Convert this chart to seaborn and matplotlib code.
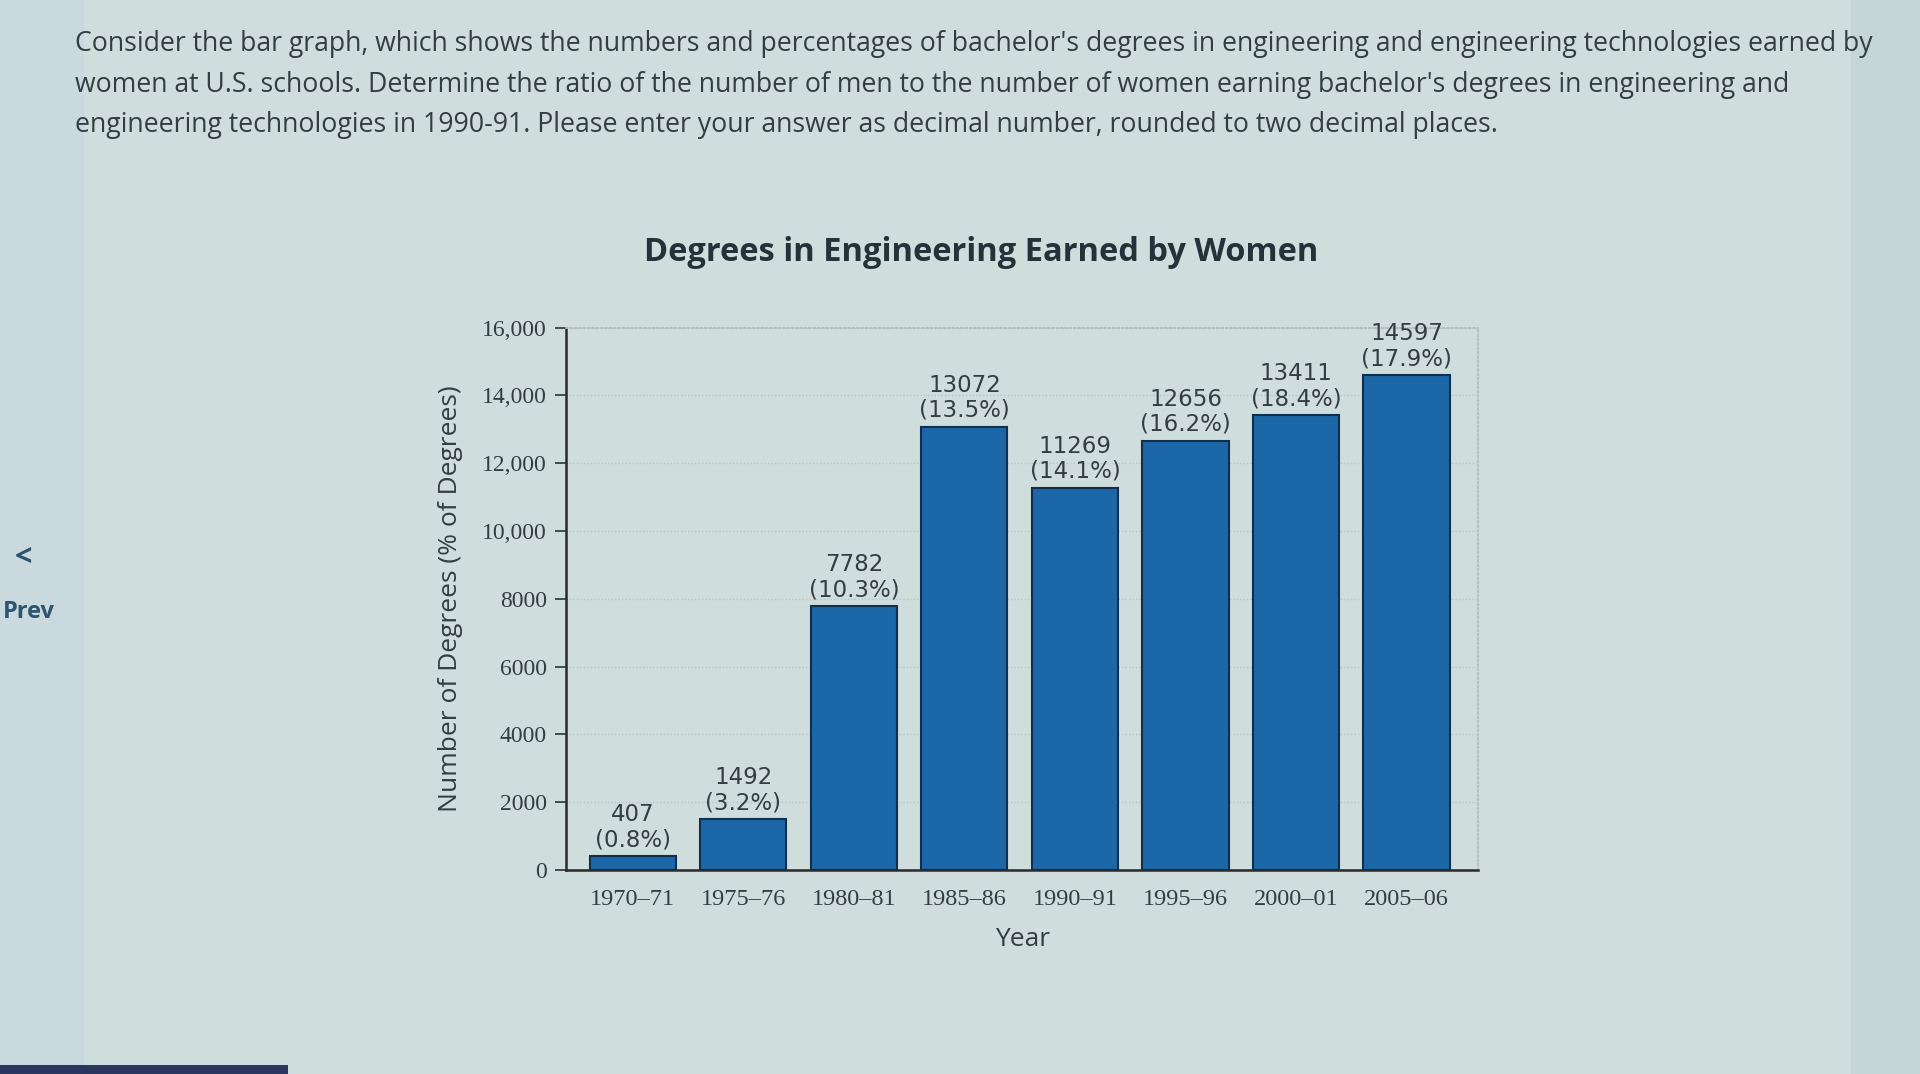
import numpy as np
import pandas as pd
import matplotlib
matplotlib.use("Agg")
import matplotlib.pyplot as plt
import seaborn as sns
from matplotlib.patches import Rectangle

# Data
years = ["1970\u201371", "1975\u201376", "1980\u201381", "1985\u201386",
         "1990\u201391", "1995\u201396", "2000\u201301", "2005\u201306"]
degrees = [407, 1492, 7782, 13072, 11269, 12656, 13411, 14597]
percents = [0.8, 3.2, 10.3, 13.5, 14.1, 16.2, 18.4, 17.9]
y_ticks = [0, 2000, 4000, 6000, 8000, 10000, 12000, 14000, 16000]
y_tick_labels = ["0", "2000", "4000", "6000", "8000", "10,000", "12,000", "14,000", "16,000"]

question = ("Consider the bar graph, which shows the numbers and percentages of bachelor's degrees in engineering and engineering technologies earned by\n"
            "women at U.S. schools. Determine the ratio of the number of men to the number of women earning bachelor's degrees in engineering and\n"
            "engineering technologies in 1990-91. Please enter your answer as decimal number, rounded to two decimal places.")

df = pd.DataFrame({"year": years, "degrees": degrees, "pct": percents})

sns.set_theme(style="white")
plt.rcParams["font.family"] = ["Open Sans", "DejaVu Sans"]

bg = "#d0dddd"
text_col = "#333d42"
bar_col = "#1c67a8"

fig = plt.figure(figsize=(19.2, 10.74), dpi=100, facecolor=bg)

# page panels
fig.patches.append(Rectangle((0, 0), 0.044, 1, transform=fig.transFigure,
                             facecolor="#c9d9dd", edgecolor="none", zorder=0))
fig.patches.append(Rectangle((0.964, 0), 0.036, 1, transform=fig.transFigure,
                             facecolor="#c6d6d6", edgecolor="none", zorder=0))
fig.patches.append(Rectangle((0, 0), 0.15, 0.008, transform=fig.transFigure,
                             facecolor="#2c3560", edgecolor="none", zorder=1))

fig.text(0.039, 0.972, question, ha="left", va="top", fontsize=19.2,
         color=text_col, linespacing=1.6)

fig.text(0.012, 0.48, "<", ha="center", va="center", fontsize=22,
         fontweight="bold", color="#2b5570")
fig.text(0.015, 0.43, "Prev", ha="center", va="center", fontsize=17,
         fontweight="bold", color="#2b5570")

ax = fig.add_axes([0.295, 0.19, 0.475, 0.505])
ax.set_facecolor(bg)
sns.barplot(data=df, x="year", y="degrees", color=bar_col, width=0.78,
            edgecolor="#0f2f4d", linewidth=1.5, saturation=1, ax=ax, zorder=3)

for i, (v, p) in enumerate(zip(degrees, percents)):
    ax.text(i, v + 150, f"{v}\n({p}%)", ha="center", va="bottom",
            fontsize=16.5, color=text_col, linespacing=1.1,
            family=["DejaVu Sans"], zorder=4)

ax.set_ylim(0, 16000)
ax.set_xlim(-0.6, 7.65)
ax.set_yticks(y_ticks)
ax.set_yticklabels(y_tick_labels, family=["Liberation Serif", "DejaVu Serif"],
                   fontsize=17, color=text_col)
ax.set_xticks(range(len(years)))
ax.set_xticklabels(years, family=["Liberation Serif", "DejaVu Serif"],
                   fontsize=17.5, color=text_col)
ax.tick_params(axis="y", length=8, width=1.2, color="#333333", pad=6, left=True)
ax.tick_params(axis="x", length=0, pad=14)
ax.yaxis.grid(True, linestyle=(0, (1, 1.5)), color="#b9c4c6", linewidth=1, zorder=0)

for side in ["top", "right"]:
    ax.spines[side].set_visible(True)
    ax.spines[side].set_linestyle((0, (1, 1.5)))
    ax.spines[side].set_color("#b0bcbe")
for side in ["left", "bottom"]:
    ax.spines[side].set_color("#2a2a2a")
    ax.spines[side].set_linewidth(1.8)

ax.set_xlabel("Year", fontsize=19, color=text_col, labelpad=12)
ax.set_ylabel("Number of Degrees (% of Degrees)", fontsize=19, color=text_col, labelpad=14)
ax.set_title("Degrees in Engineering Earned by Women", fontsize=23.5,
             fontweight="bold", color="#25323a", pad=48, x=0.455)

fig.savefig("out.png", dpi=100, facecolor=bg)
